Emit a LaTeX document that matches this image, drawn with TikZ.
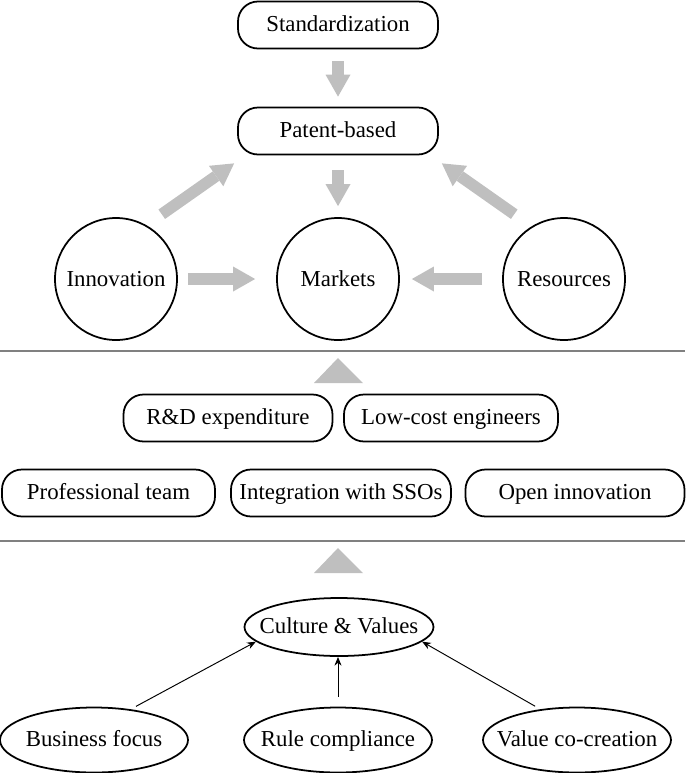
\documentclass[tikz,border=0pt]{standalone}
\usepackage{fontspec}
\setmainfont{Liberation Serif}
\usetikzlibrary{arrows.meta,shapes.geometric,calc}

\begin{document}
\begin{tikzpicture}[
    pill/.style={draw, line width=1pt, rounded corners=0.4cm, minimum height=0.94cm, inner sep=0pt, text height=0.72em, text depth=0pt, font=\fontsize{13}{15}\selectfont},
    bubble/.style={draw, line width=1pt, circle, minimum size=2.44cm, inner sep=0pt, font=\fontsize{13}{15}\selectfont},
    oval/.style={draw, line width=1pt, ellipse, minimum width=3.76cm, minimum height=1.3cm, inner xsep=-1cm, inner ysep=-0.3cm, text height=0.72em, text depth=0pt, font=\fontsize{13}{15}\selectfont},
    fat/.style={line width=0.23cm, black!25, -{Triangle[width=0.5cm,length=0.44cm,line width=0pt]}},
    link/.style={line width=0.55pt, -{Stealth[length=5pt,width=4pt]}},
    divider/.style={line width=0.9pt, black!50}
]
\useasboundingbox (0,0) rectangle (13.7,-15.46);

% top level
\node[pill, minimum width=4cm] (std) at (6.76,-0.5) {Standardization};
\node[pill, minimum width=4cm] (pat) at (6.76,-2.62) {Patent-based};
\node[bubble] (inn) at (2.32,-5.58) {Innovation};
\node[bubble] (mkt) at (6.76,-5.58) {Markets};
\node[bubble] (res) at (11.28,-5.58) {Resources};

\draw[fat, shorten <=0.24cm, shorten >=0.2cm] (std) -- (pat);
\draw[fat, shorten <=0.3cm, shorten >=0.22cm] (pat) -- (mkt);
\draw[fat, shorten <=0.2cm, shorten >=0.42cm] (inn) -- (mkt);
\draw[fat, shorten <=0.4cm, shorten >=0.24cm] (res) -- (mkt);
\draw[fat] ([shift={(0.04,0.42)}]inn.north east) -- ([shift={(-0.06,-0.16)}]pat.south west);
\draw[fat] ([shift={(-0.12,0.42)}]res.north west) -- ([shift={(0.06,-0.16)}]pat.south east);

\draw[divider] (0,-7.02) -- (13.7,-7.02);
\fill[black!25] (6.28,-7.66) -- (6.76,-7.16) -- (7.26,-7.66) -- cycle;

% middle level
\node[pill, minimum width=4.18cm] (rd) at (4.56,-8.36) {R\&D expenditure};
\node[pill, minimum width=4.28cm] (low) at (9.02,-8.36) {Low-cost engineers};
\node[pill, minimum width=4.26cm] (pro) at (2.17,-9.86) {Professional team};
\node[pill, minimum width=4.4cm] (intg) at (6.82,-9.86) {Integration with SSOs};
\node[pill, minimum width=4.38cm] (open) at (11.5,-9.86) {Open innovation};

\draw[divider] (0,-10.82) -- (13.7,-10.82);
\fill[black!25] (6.28,-11.46) -- (6.76,-10.96) -- (7.26,-11.46) -- cycle;

% bottom level
\node[oval, minimum width=3.78cm, minimum height=1.16cm] (cul) at (6.78,-12.54) {Culture \& Values};
\node[oval] (bus) at (1.88,-14.8) {Business focus};
\node[oval] (comply) at (6.76,-14.8) {Rule compliance};
\node[oval] (val) at (11.54,-14.8) {Value co-creation};

\draw[link, shorten <=0.12cm] (bus.40) -- (cul.190);
\draw[link, shorten <=0.2cm] (comply) -- (comply |- cul.south);
\draw[link, shorten <=0.12cm] (val.140) -- (cul.350);
\end{tikzpicture}
\end{document}
